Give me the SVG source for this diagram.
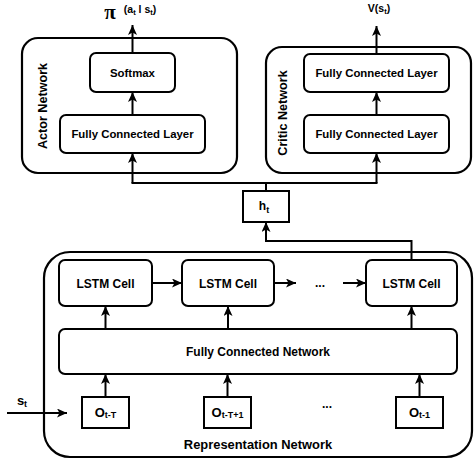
<svg xmlns="http://www.w3.org/2000/svg" width="474" height="460" viewBox="0 0 474 460">
<defs>
<marker id="ah" markerUnits="userSpaceOnUse" markerWidth="12" markerHeight="10" refX="10" refY="4.5" orient="auto">
<path d="M0,0 L10,4.5 L0,9 L2.5,4.5 z" fill="#000"/>
</marker>
<style>
.box{fill:#fff;stroke:#000;stroke-width:2}
.cont{fill:#fff;stroke:#000;stroke-width:2.2}
.ln{fill:none;stroke:#000;stroke-width:2}
.arr{fill:none;stroke:#000;stroke-width:2;marker-end:url(#ah)}
text{font-family:"Liberation Sans",Arial,sans-serif;font-weight:bold;fill:#000;text-anchor:middle}
.t12{font-size:12px}
.t11{font-size:11.4px}
.side{font-size:12.6px}
.obs{font-size:13px}
.sub{font-size:9px}
</style>
</defs>
<rect width="474" height="460" fill="#fff"/>

<g id="actor">
<rect class="cont" x="22" y="38" width="215" height="135" rx="16"/>
<text class="side" transform="translate(46.5,106) rotate(-90)">Actor Network</text>
</g>
<g id="critic">
<rect class="cont" x="266" y="47" width="205" height="126" rx="16"/>
<text class="side" transform="translate(286.5,113) rotate(-90)">Critic Network</text>
</g>
<g id="representation">
<rect class="cont" x="44" y="252" width="428" height="205" rx="26"/>
<text style="font-size:12.9px" x="258" y="448.5">Representation Network</text>
</g>

<g id="softmax">
<rect class="box" x="90" y="53" width="85" height="39" rx="6"/>
<text class="t11" x="132.5" y="76.5">Softmax</text>
</g>
<g id="actor-fc">
<rect class="box" x="60" y="115" width="145" height="38" rx="6"/>
<text class="t11" x="132.5" y="138">Fully Connected Layer</text>
</g>
<g id="critic-fc2">
<rect class="box" x="304" y="54" width="145" height="38" rx="6"/>
<text class="t11" x="376.5" y="77">Fully Connected Layer</text>
</g>
<g id="critic-fc1">
<rect class="box" x="304" y="115" width="145" height="38" rx="6"/>
<text class="t11" x="376.5" y="138">Fully Connected Layer</text>
</g>
<g id="ht">
<rect class="box" x="243" y="191" width="46" height="31" rx="0"/>
<text class="t12" x="264" y="210">h<tspan class="sub" dy="3">t</tspan></text>
</g>
<g id="lstm1">
<rect class="box" x="59" y="260" width="93" height="46" rx="6"/>
<text class="t12" x="105.5" y="287.5">LSTM Cell</text>
</g>
<g id="lstm2">
<rect class="box" x="182" y="260" width="92" height="46" rx="6"/>
<text class="t12" x="228" y="287.5">LSTM Cell</text>
</g>
<g id="lstm-dots">
<text class="t12" x="320" y="287">...</text>
</g>
<g id="lstm3">
<rect class="box" x="366" y="260" width="91" height="46" rx="6"/>
<text class="t12" x="411.5" y="287.5">LSTM Cell</text>
</g>
<g id="fcnet">
<rect class="box" x="59" y="329" width="398" height="45" rx="6"/>
<text class="t12" x="258" y="356">Fully Connected Network</text>
</g>
<g id="o1">
<rect class="box" x="82" y="397" width="47" height="31" rx="0"/>
<text class="obs" x="105.5" y="417">O<tspan class="sub" dy="1">t-T</tspan></text>
</g>
<g id="o2">
<rect class="box" x="204" y="397" width="47" height="31" rx="0"/>
<text class="obs" x="227.5" y="417">O<tspan class="sub" dy="1">t-T+1</tspan></text>
</g>
<g id="obs-dots">
<text class="t12" x="327" y="408">...</text>
</g>
<g id="o3">
<rect class="box" x="396" y="397" width="47" height="31" rx="0"/>
<text class="obs" x="419.5" y="417">O<tspan class="sub" dy="1">t-1</tspan></text>
</g>

<g id="labels">
<text x="110" y="19" style="font-family:'Liberation Serif',serif;font-size:21px;font-weight:bold">π</text>
<text x="140" y="12.5" style="font-size:10.5px">(a<tspan style="font-size:7.5px" dy="2">t</tspan><tspan dy="-2"> l s</tspan><tspan style="font-size:7.5px" dy="2">t</tspan><tspan dy="-2">)</tspan></text>
<text x="379" y="12" style="font-size:10.5px">V(s<tspan style="font-size:7.5px" dy="2">t</tspan><tspan dy="-2">)</tspan></text>
<text x="22" y="405" style="font-size:13px">s<tspan style="font-size:9px" dy="2">t</tspan></text>
</g>

<g id="connectors">
<line class="arr" x1="132.5" y1="53" x2="132.5" y2="25"/>
<line class="arr" x1="132.5" y1="115" x2="132.5" y2="92"/>
<line class="arr" x1="376.5" y1="54" x2="376.5" y2="26"/>
<line class="arr" x1="376.5" y1="115" x2="376.5" y2="92"/>
<line class="ln" x1="131.5" y1="183" x2="377.5" y2="183"/>
<line class="arr" x1="132.5" y1="183" x2="132.5" y2="153"/>
<line class="arr" x1="376.5" y1="183" x2="376.5" y2="153"/>
<line class="ln" x1="266" y1="191" x2="266" y2="183"/>
<polyline class="arr" points="411.5,260 411.5,241 266,241 266,222"/>
<line class="arr" x1="152" y1="283" x2="182" y2="283"/>
<line class="arr" x1="274" y1="283" x2="296" y2="283"/>
<line class="arr" x1="343" y1="283" x2="366" y2="283"/>
<line class="arr" x1="105.5" y1="329" x2="105.5" y2="306"/>
<line class="arr" x1="228" y1="329" x2="228" y2="306"/>
<line class="arr" x1="411.5" y1="329" x2="411.5" y2="306"/>
<line class="arr" x1="105.5" y1="397" x2="105.5" y2="374"/>
<line class="arr" x1="227.5" y1="397" x2="227.5" y2="374"/>
<line class="arr" x1="419.5" y1="397" x2="419.5" y2="374"/>
<line class="arr" x1="7" y1="413" x2="67" y2="413"/>
</g>
</svg>
